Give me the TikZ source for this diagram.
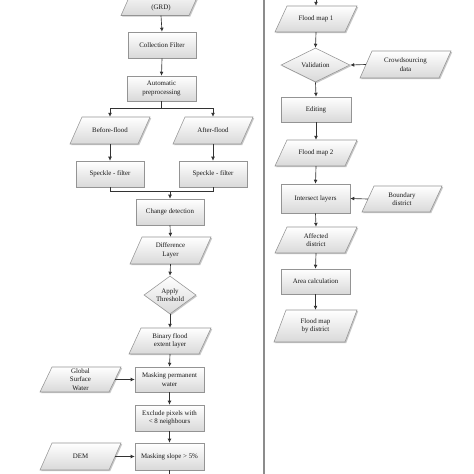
\documentclass[tikz,border=0pt]{standalone}
\usepackage{fontspec}
\setmainfont{Liberation Serif}
\usetikzlibrary{arrows.meta,shapes.geometric,shadows}
\tikzset{
  txt/.style={font=\fontsize{6.9}{8.4}\selectfont, text=black!90, align=center, inner sep=1pt},
  boxfill/.style={draw=black!42, line width=0.55pt, top color=white, bottom color=black!15},
  procbox/.style={txt, boxfill, rectangle, drop shadow={shadow xshift=1.2pt, shadow yshift=-1.2pt, opacity=0.3, fill=black!70}},
  decbox/.style={txt, boxfill, diamond, inner sep=0pt, drop shadow={shadow xshift=1.2pt, shadow yshift=-1.2pt, opacity=0.3, fill=black!70}},
  pgshadow/.style={fill=black!70, opacity=0.3},
  arr/.style={draw=black!80, line width=0.65pt, -{Latex[length=4pt,width=3.8pt]}},
  ln/.style={draw=black!80, line width=0.65pt},
}
% name, cx, cy, w, h, slant, text
\newcommand{\pgram}[7]{%
  \fill[pgshadow] ({#2-#4/2-#6/2+1.2},{#3+#5/2+1.2}) -- ({#2+#4/2-#6/2+1.2},{#3+#5/2+1.2}) -- ({#2+#4/2+#6/2+1.2},{#3-#5/2+1.2}) -- ({#2-#4/2+#6/2+1.2},{#3-#5/2+1.2}) -- cycle;
  \path[boxfill] ({#2-#4/2-#6/2},{#3+#5/2}) -- ({#2+#4/2-#6/2},{#3+#5/2}) -- ({#2+#4/2+#6/2},{#3-#5/2}) -- ({#2-#4/2+#6/2},{#3-#5/2}) -- cycle;
  \node[txt, minimum width=#4pt, minimum height=#5pt] (#1) at (#2,#3) {#7};
}
\begin{document}
\begin{tikzpicture}[x=1pt,y=-1pt]
\useasboundingbox (0,0) rectangle (474,474);
\fill[white] (0,0) rectangle (474,474);
\clip (0,0) rectangle (474,474);

% divider
\draw[draw=black!45, line width=1.1pt] (264,-5) -- (264,480);

% ---------- left column ----------
\pgram{grd}{161}{2}{68}{27}{12}{}
\node[txt] (grdtxt) at (161,7.5) {(GRD)};
\node[procbox, minimum width=68pt, minimum height=26pt] (coll) at (162,45) {Collection Filter};
\node[procbox, minimum width=69pt, minimum height=25pt] (auto) at (161.5,88.5) {Automatic\\preprocessing};
\pgram{before}{110}{130.5}{68}{27}{12}{Before-flood}
\pgram{after}{213}{130.5}{68}{27}{12}{After-flood}
\node[procbox, minimum width=68pt, minimum height=26pt] (spl) at (110,174) {Speckle - filter};
\node[procbox, minimum width=68pt, minimum height=26pt] (spr) at (213,174) {Speckle - filter};
\node[procbox, minimum width=68pt, minimum height=26pt] (change) at (170,212) {Change detection};
\pgram{diff}{170.5}{250.5}{69}{27}{12}{Difference\\Layer}
\node[decbox, shape aspect=1.4, minimum width=52pt, minimum height=38pt] (thr) at (170,295) {Apply\\Threshold};
\pgram{binary}{170}{341}{70}{26}{12}{Binary flood\\extent layer}
\node[procbox, minimum width=69pt, minimum height=25pt] (mpw) at (169.5,379.5) {Masking permanent\\water};
\pgram{gsw}{80.5}{379.5}{69}{25}{12}{Global\\Surface\\Water}
\node[procbox, minimum width=69pt, minimum height=26pt] (excl) at (169.5,418) {Exclude pixels with\\< 8 neighbours};
\node[procbox, minimum width=69pt, minimum height=27pt] (slope) at (169.5,456.5) {Masking slope > 5\%};
\pgram{dem}{80.5}{456.5}{69}{27}{12}{DEM}
\coordinate (leftend) at (169.5,490);

\draw[arr] (grd.south) -- (coll.north);
\draw[arr] (coll.south) -- (auto.north);
\coordinate (split) at (161.5,108);
\draw[ln] (auto.south) -- (split);
\draw[arr] (split) -| (before.north);
\draw[arr] (split) -| (after.north);
\draw[arr] (before.south) -- (spl.north);
\draw[arr] (after.south) -- (spr.north);
\coordinate (merge) at (170,191);
\draw[ln] (spl.south) |- (merge);
\draw[ln] (spr.south) |- (merge);
\draw[arr] (merge) -- (change.north);
\draw[arr] (change.south) -- (diff.north);
\draw[arr] (diff.south) -- (thr.north);
\draw[arr] (thr.south) -- (binary.north);
\draw[arr] (binary.south) -- (mpw.north);
\draw[arr] (gsw.east) -- (mpw.west);
\draw[arr] (mpw.south) -- (excl.north);
\draw[arr] (excl.south) -- (slope.north);
\draw[arr] (dem.east) -- (slope.west);
\draw[ln] (slope.south) -- (leftend);

% ---------- right column ----------
\coordinate (rightstart) at (316,-8);
\pgram{fm1}{316}{19}{70}{26}{12}{Flood map 1}
\node[decbox, shape aspect=1.4, minimum width=69pt, minimum height=34pt] (valid) at (315.5,65) {Validation};
\pgram{crowd}{405.5}{64.5}{79}{27}{12}{Crowdsourcing\\data}
\node[procbox, minimum width=70pt, minimum height=25pt] (edit) at (316,109.5) {Editing};
\pgram{fm2}{316}{153}{70}{26}{12}{Flood map 2}
\node[procbox, minimum width=69pt, minimum height=29pt] (inter) at (315.5,198.5) {Intersect layers};
\pgram{bound}{402}{199}{68}{26}{12}{Boundary\\district};
\pgram{affected}{316}{240}{70}{26}{12}{Affected\\district}
\node[procbox, minimum width=69pt, minimum height=25pt] (area) at (315.5,281.5) {Area calculation};
\pgram{fmd}{315.5}{326}{71}{32}{12}{Flood map\\by district}

\draw[arr] (rightstart) -- (fm1.north);
\draw[arr] (fm1.south) -- (valid.north);
\draw[arr] (crowd.west) -- (valid.east);
\draw[arr] (valid.south) -- (edit.north);
\draw[arr] (edit.south) -- (fm2.north);
\draw[arr] (fm2.south) -- (inter.north);
\draw[arr] (bound.west) -- (inter.east);
\draw[arr] (inter.south) -- (affected.north);
\draw[arr] (affected.south) -- (area.north);
\draw[arr] (area.south) -- (fmd.north);
\end{tikzpicture}
\end{document}
